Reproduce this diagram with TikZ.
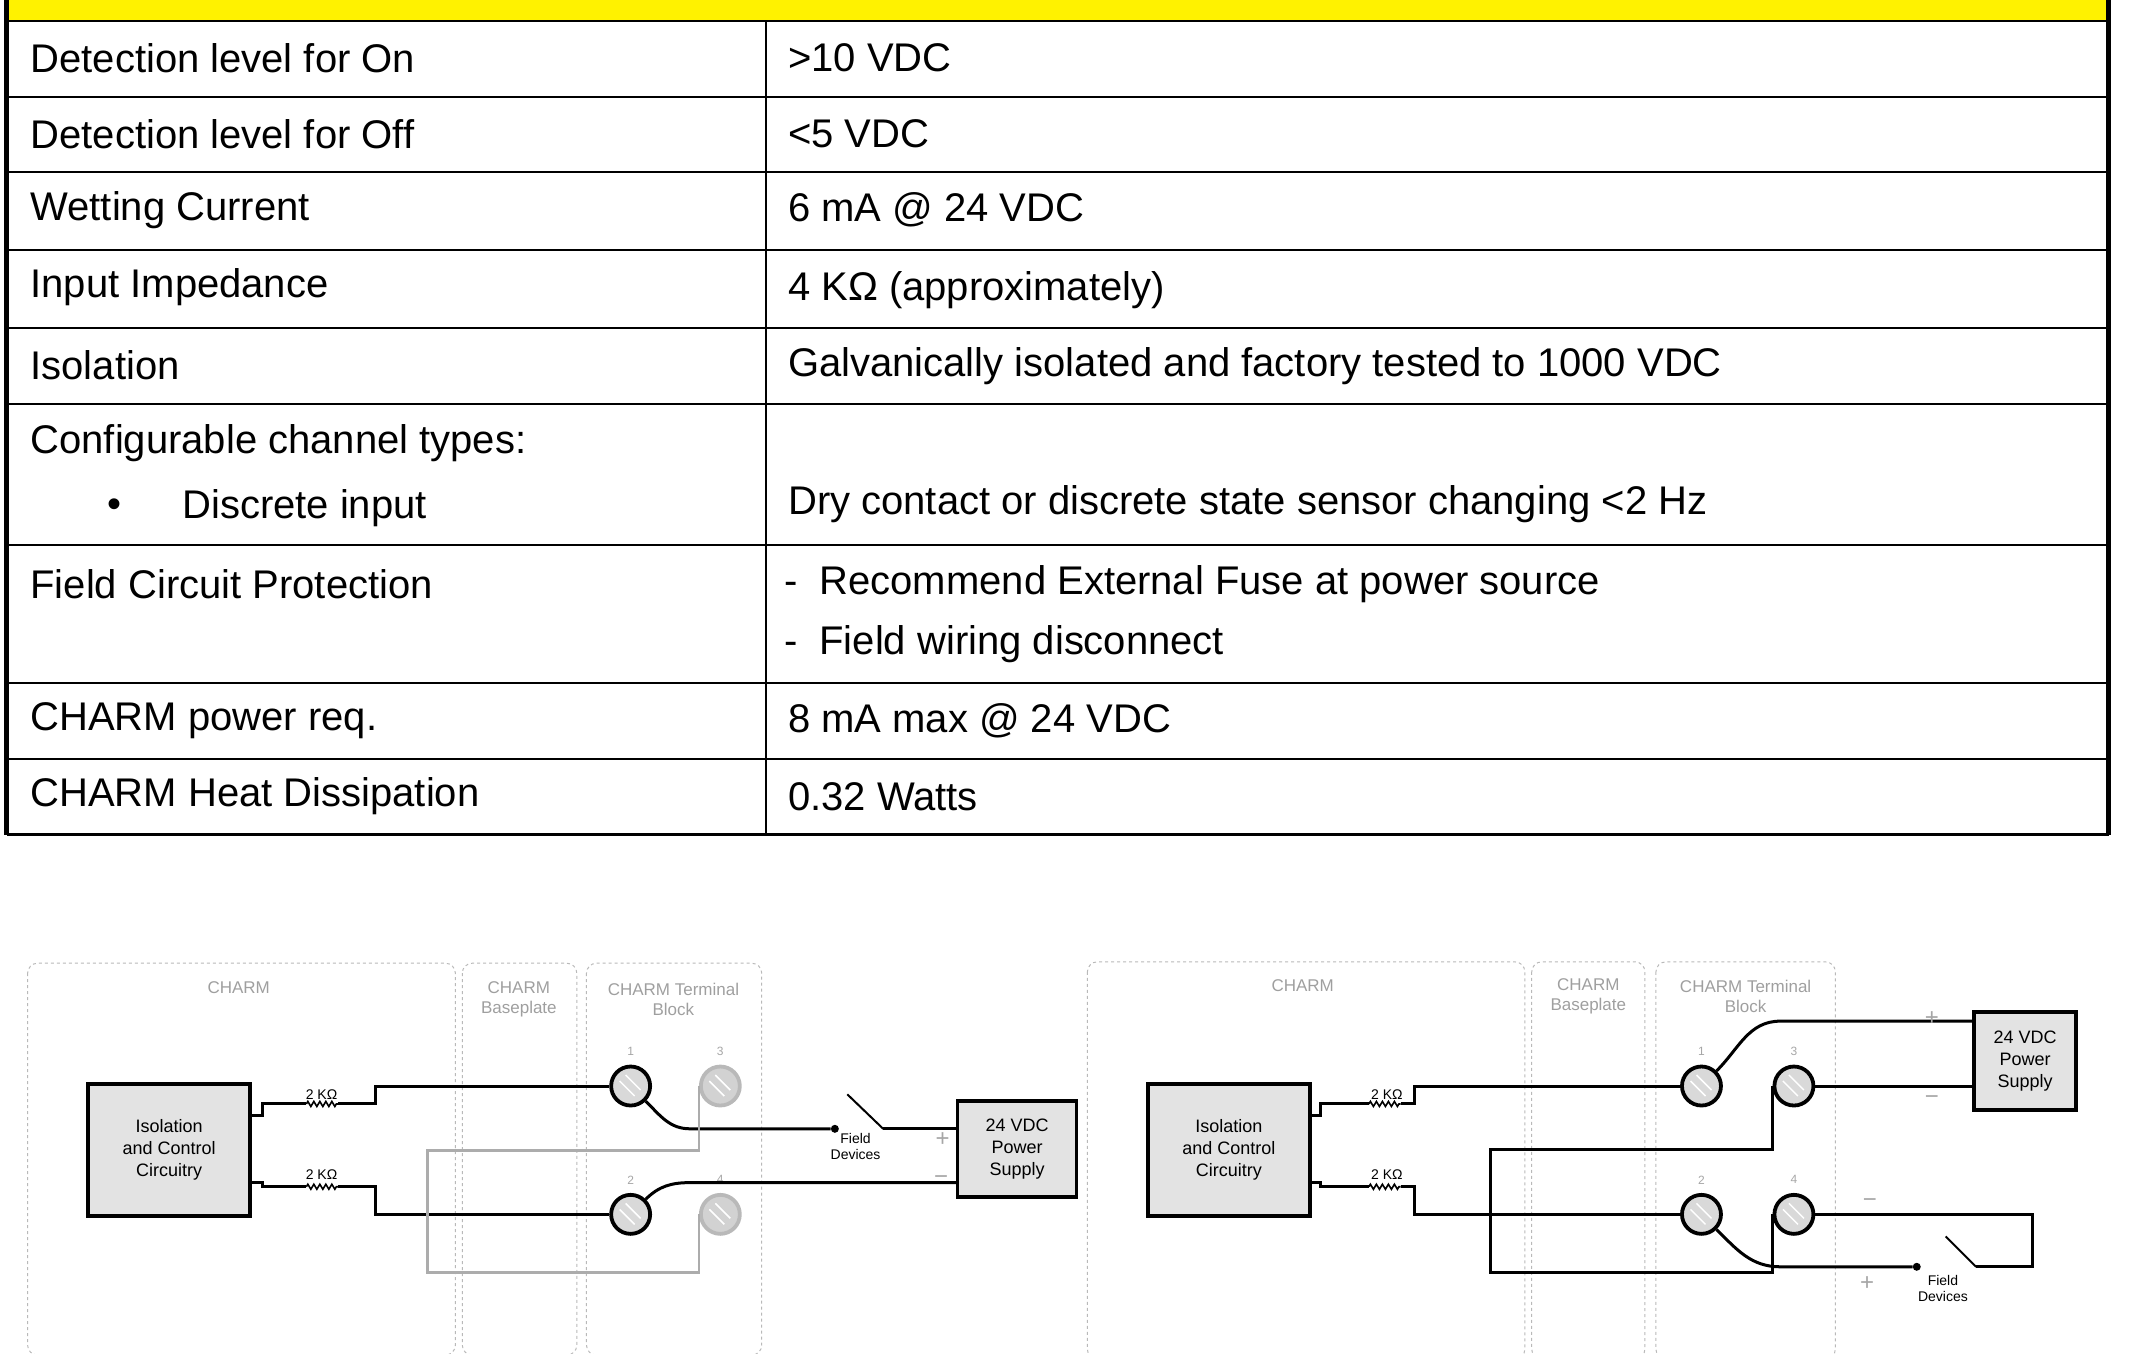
\documentclass[tikz,border=0pt]{standalone}
\usepackage{fontspec}
\setmainfont{Liberation Sans}
\usetikzlibrary{decorations.pathmorphing}
\begin{document}
\begin{tikzpicture}[x=1.38pt,y=-1.38pt,
 cell/.style={anchor=west,inner sep=0pt,font=\fontsize{40}{48}\selectfont},
 zone/.style={draw=gray!55,dashed,rounded corners=10pt,line width=1pt},
 zlab/.style={text=gray!75,font=\fontsize{17}{20}\selectfont,align=center},
 lab/.style={font=\fontsize{14}{16}\selectfont,align=center},
 sign/.style={font=\fontsize{24}{24}\selectfont,text=gray!70},
 wire/.style={line width=3pt},
 gwire/.style={line width=2.8pt,draw=gray!65},
 res/.style={line width=1.6pt,decorate,decoration={zigzag,amplitude=2.5pt,segment length=6pt}},
 box/.style={draw,fill=gray!22,line width=3.5pt,align=center,font=\fontsize{18}{22}\selectfont},
 term/.style={circle,draw,line width=3.8pt,fill=gray!30,minimum size=39pt,inner sep=0pt,
   path picture={\draw[white,line width=1.5pt] (path picture bounding box.center) ++(-11pt,5pt) -- ++(15pt,-15pt);
                 \draw[white,line width=1.5pt] (path picture bounding box.center) ++(-5pt,11pt) -- ++(15pt,-15pt);}},
 gterm/.style={term,draw=gray!55,fill=gray!35},
 num/.style={font=\fontsize{12}{13}\selectfont,text=gray!70},
 dot/.style={circle,fill,inner sep=0pt,minimum size=8pt}]
\useasboundingbox (0,0) rectangle (1545,981.16);
% ---------- table ----------
\fill[yellow] (5,0) rectangle (1528,15);
\foreach \y in {15,70,125,181,238,293,395,495,550} \draw[line width=2pt] (5,\y) -- (1528,\y);
\draw[line width=3pt] (5,605) -- (1528,605);
\draw[line width=2pt] (555,15) -- (555,605);
\draw[line width=5pt] (5,0) -- (5,605);
\draw[line width=5pt] (1528,0) -- (1528,605);
\node[cell] (l1) at (22,42) {Detection level for On};
\node[cell] (r1) at (571,42) {>10 VDC};
\node[cell] (l2) at (22,97) {Detection level for Off};
\node[cell] (r2) at (571,97) {<5 VDC};
\node[cell] (l3) at (22,152) {Wetting Current};
\node[cell] (r3) at (571,152) {6 mA @ 24 VDC};
\node[cell] (l4) at (22,208) {Input Impedance};
\node[cell] (r4) at (571,210) {4 KΩ (approximately)};
\node[cell] (l5) at (22,265) {Isolation};
\node[cell] (r5) at (571,265) {Galvanically isolated and factory tested to 1000 VDC};
\node[cell] (l6) at (22,321) {Configurable channel types:};
\node[cell] (b6) at (78,368) {•};
\node[cell] (l6b) at (132,368) {Discrete input};
\node[cell] (r6) at (571,365) {Dry contact or discrete state sensor changing <2 Hz};
\node[cell] (l7) at (22,423) {Field Circuit Protection};
\node[cell] (r7a) at (568,423) {-\ \ Recommend External Fuse at power source};
\node[cell] (r7b) at (568,467) {-\ \ Field wiring disconnect};
\node[cell] (l8) at (22,522) {CHARM power req.};
\node[cell] (r8) at (571,522) {8 mA max @ 24 VDC};
\node[cell] (l9) at (22,577) {CHARM Heat Dissipation};
\node[cell] (r9) at (571,577) {0.32 Watts};
% ---------- left diagram ----------
\draw[zone] (20,698) rectangle (330,982);
\draw[zone] (335,698) rectangle (418,982);
\draw[zone] (425,698) rectangle (552,982);
\node[zlab] (zc1) at (173,716) {CHARM};
\node[zlab] (zb1) at (376,724) {CHARM\\Baseplate};
\node[zlab] (zt1) at (488,724) {CHARM Terminal\\Block};
\node[box,minimum width=162pt,minimum height=132pt] (iso1) at (122.5,833.5) {Isolation\\and Control\\Circuitry};
\node[box,minimum width=119pt,minimum height=96pt] (ps1) at (737,832.5) {24 VDC\\Power\\Supply};
\node[term] (t1) at (457,787) {};
\node[gterm] (t3) at (522,787) {};
\node[term] (t2) at (457,880) {};
\node[gterm] (t4) at (522,880) {};
\node[num] (n1) at (457,762) {1};
\node[num] (n3) at (522,762) {3};
\node[num] (n2) at (457,855) {2};
\node[num] (n4) at (522,855) {4};
\coordinate (a1) at (182,808); \coordinate (a2) at (182,857);
\coordinate (ra1) at (222,800); \coordinate (rb1) at (245,800);
\coordinate (ra2) at (222,860); \coordinate (rb2) at (245,860);
\draw[wire] (a1) -- (190,808) -- (190,800) -- (ra1);
\draw[res] (ra1) -- (rb1);
\draw[wire] (rb1) -- (272,800) -- (272,787) -- (t1.west);
\draw[wire] (a2) -- (190,857) -- (190,860) -- (ra2);
\draw[res] (ra2) -- (rb2);
\draw[wire] (rb2) -- (272,860) -- (272,880) -- (t2.west);
\node[lab] (k1) at (233,793) {2 KΩ};
\node[lab] (k2) at (233,851) {2 KΩ};
\node[dot] (s1a) at (605,818) {};
\coordinate (s1b) at (640,818);
\coordinate (s1c) at (614,793);
\draw[wire] (t1.-45) to[out=-45,in=180] (500,818) -- (s1a);
\draw[line width=2pt] (s1b) -- (s1c);
\draw[wire] (s1b) -- (ps1.west |- s1b);
\coordinate (p2) at (500,857);
\draw[wire] (t2.45) to[out=45,in=180] (p2) -- (ps1.west |- p2);
\draw[gwire] (t3.west) |- (310,834) -- (310,922) -| (t4.west);
\node[lab] (fd1) at (620,831) {Field\\Devices};
\node[sign] (pl1) at (683,826) {+};
\node[sign] (mi1) at (682,855) {−};
% ---------- right diagram ----------
\draw[zone] (788,697) rectangle (1105,985);
\draw[zone] (1110,697) rectangle (1192,985);
\draw[zone] (1200,697) rectangle (1330,985);
\node[zlab] (zc2) at (944,714) {CHARM};
\node[zlab] (zb2) at (1151,722) {CHARM\\Baseplate};
\node[zlab] (zt2) at (1265,722) {CHARM Terminal\\Block};
\node[box,minimum width=162pt,minimum height=132pt] (iso2) at (890.5,833.5) {Isolation\\and Control\\Circuitry};
\node[box,minimum width=102pt,minimum height=98pt] (ps2) at (1467.5,769) {24 VDC\\Power\\Supply};
\node[term] (u1) at (1233,787) {};
\node[term] (u3) at (1300,787) {};
\node[term] (u2) at (1233,880) {};
\node[term] (u4) at (1300,880) {};
\node[num] (m1) at (1233,762) {1};
\node[num] (m3) at (1300,762) {3};
\node[num] (m2) at (1233,855) {2};
\node[num] (m4) at (1300,855) {4};
\coordinate (b1) at (950,808); \coordinate (b2) at (950,857);
\coordinate (rc1) at (992,800); \coordinate (rd1) at (1015,800);
\coordinate (rc2) at (992,860); \coordinate (rd2) at (1015,860);
\draw[wire] (b1) -- (957,808) -- (957,800) -- (rc1);
\draw[res] (rc1) -- (rd1);
\draw[wire] (rd1) -- (1025,800) -- (1025,787) -- (u1.west);
\draw[wire] (b2) -- (957,857) -- (957,860) -- (rc2);
\draw[res] (rc2) -- (rd2);
\draw[wire] (rd2) -- (1025,860) -- (1025,880) -- (u2.west);
\node[lab] (k3) at (1005,793) {2 KΩ};
\node[lab] (k4) at (1005,851) {2 KΩ};
\coordinate (q1) at (1290,740);
\draw[wire] (u1.45) to[out=45,in=180] (q1) -- (ps2.west |- q1);
\draw[wire] (u3.east) -- (ps2.west |- u3);
\draw[wire] (u3.west) |- (1080,833) -- (1080,922) -| (u4.west);
\node[dot] (s2a) at (1389,918) {};
\coordinate (s2b) at (1432,918);
\coordinate (s2c) at (1410,896);
\coordinate (q4) at (1473,880);
\draw[wire] (u4.east) -- (q4) -- (1473,918) -- (s2b);
\draw[line width=2pt] (s2b) -- (s2c);
\draw[wire] (u2.-45) to[out=-45,in=180] (1290,918) -- (s2a);
\node[lab] (fd2) at (1408,934) {Field\\Devices};
\node[sign] (pl2) at (1400,738) {+};
\node[sign] (mi2) at (1400,797) {−};
\node[sign] (mi3) at (1355,872) {−};
\node[sign] (pl3) at (1353,930) {+};
\end{tikzpicture}
\end{document}
